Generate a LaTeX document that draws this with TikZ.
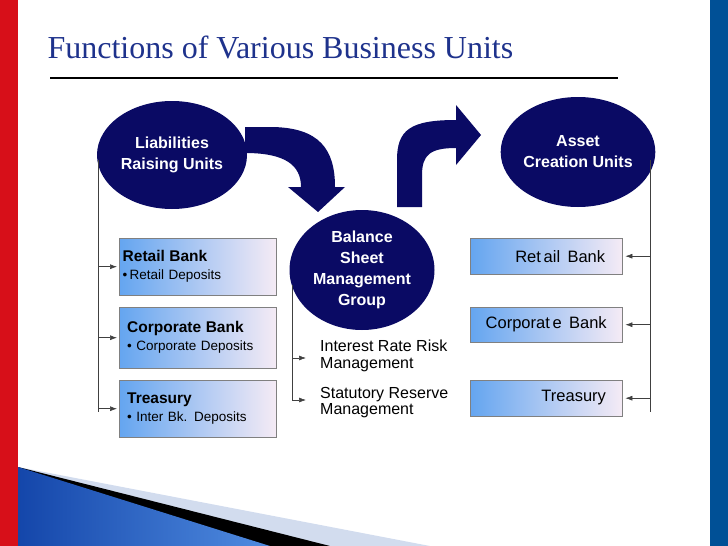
\documentclass[tikz,border=0pt]{standalone}
\usepackage{fontspec}
\setmainfont{Liberation Serif}
\setsansfont{Liberation Sans}
\usetikzlibrary{shapes.geometric, arrows.meta, positioning}
\definecolor{navyunit}{RGB}{10, 10, 100}
\definecolor{titleblue}{RGB}{30, 50, 140}
\definecolor{boxblue}{RGB}{100, 165, 240}
\definecolor{boxpink}{RGB}{245, 235, 245}
\definecolor{sidered}{RGB}{215, 15, 25}
\definecolor{sideblue}{RGB}{0, 80, 150}
\definecolor{swooshdark}{RGB}{20, 70, 170}
\definecolor{swooshlight}{RGB}{80, 140, 225}
\definecolor{swooshgray}{RGB}{210, 220, 238}

\begin{document}
\begin{tikzpicture}[x=1pt, y=-1pt,
    unit/.style={ellipse, fill=navyunit, text=white, font=\sffamily\bfseries\fontsize{16}{21}\selectfont,
                 align=center, inner sep=0pt},
    leftbox/.style={draw=gray, left color=boxblue, right color=boxpink, minimum width=157pt,
                    text width=150pt, inner xsep=3pt, anchor=north west, align=left,
                    font=\sffamily\fontsize{13.5}{18}\selectfont},
    rightbox/.style={draw=gray, left color=boxblue, right color=boxpink, minimum width=152pt,
                     anchor=north west, font=\sffamily\fontsize{16.5}{18}\selectfont},
    mgmt/.style={anchor=north west, align=left, inner sep=0pt, font=\sffamily\fontsize{16}{16.5}\selectfont},
    link/.style={-{Latex[length=7pt, width=5pt]}, line width=0.6pt, color=black!75},
    stem/.style={line width=0.6pt, color=black!75},
]
    \useasboundingbox (0,0) rectangle (728,546);
    % Frame
    \fill[sidered] (0,0) rectangle (18,546);
    \fill[sideblue] (710,0) rectangle (728,546);
    \fill[swooshgray] (18,467) -- (430,546) -- (18,546) -- cycle;
    \fill[black] (18,467) -- (330,546) -- (18,546) -- cycle;
    \shade[left color=swooshdark, right color=swooshlight] (18,467) -- (270,546) -- (18,546) -- cycle;
    \node[anchor=west, text=titleblue, font=\fontsize{32}{36}\selectfont] (title) at (44,47) {Functions of Various Business Units};
    \draw[line width=2pt] (50,78) -- (618,78);

    % Units
    \node[unit, minimum width=150pt, minimum height=108pt] (liab) at (172,155) {Liabilities\\Raising Units};
    \node[unit, minimum width=144pt, minimum height=110pt] (asset) at (578,152) {Asset\\Creation Units};
    \node[unit, minimum width=145pt, minimum height=120pt] (bsm) at (362,270) {Balance\\Sheet\\Management\\Group};

    % Curved arrows
    \fill[navyunit] (245,127) -- (270,127) .. controls (320,127) and (335,150) .. (335,187)
        -- (345,187) -- (318,212) -- (288,187) -- (301,187) .. controls (301,165) and (285,153) .. (245,153) -- cycle;
    \fill[navyunit] (397,207) -- (397,160) .. controls (397,130) and (410,120) .. (456,120)
        -- (456,105) -- (481,135) -- (456,165) -- (456,148) .. controls (430,148) and (422,155) .. (422,175)
        -- (422,207) -- cycle;

    % Liability boxes
    \node[leftbox, minimum height=57pt] (lretail) at (119,238) {\textbf{\fontsize{15.5}{18}\selectfont Retail Bank}\\\textbullet\,Retail Deposits};
    \node[leftbox, minimum height=61pt] (lcorp) at (119,307) {\textbf{\fontsize{15.5}{18}\selectfont\ Corporate Bank}\\\ \textbullet\ Corporate Deposits};
    \node[leftbox, minimum height=57pt] (ltreas) at (119,380) {\textbf{\fontsize{15.5}{18}\selectfont\ Treasury}\\\ \textbullet\ Inter Bk. Deposits};

    % Asset boxes
    \node[rightbox, minimum height=36pt] (rretail) at (470,238) {\hspace{28pt}Ret\,ail \,Bank};
    \node[rightbox, minimum height=35pt] (rcorp) at (470,307) {Corporat\,e \,Bank};
    \node[rightbox, minimum height=36pt] (rtreas) at (470,380) {\hspace{55pt}\raisebox{5pt}{Treasury}};

    % Management texts
    \node[mgmt] (irr) at (320,340) {Interest Rate Risk\\Management};
    \node[mgmt] (srm) at (320,387) {Statutory Reserve\\Management};

    % Connectors
    \coordinate (lspine) at (98,160);
    \coordinate (rspine) at (650,160);
    \coordinate (mspine) at (292,285);
    \draw[stem] (lspine) -- (98,412);
    \draw[stem] (rspine) -- (650,412);
    \draw[stem] (mspine) -- (292,400);
    \foreach \b in {lretail, lcorp, ltreas}
        \draw[link] (lspine |- \b.west) -- ([xshift=-2pt]\b.west);
    \foreach \b in {rretail, rcorp, rtreas}
        \draw[link] (rspine |- \b.east) -- ([xshift=3pt]\b.east);
    \draw[link] (292,358) -- (306,358);
    \draw[link] (292,400) -- (306,400);
\end{tikzpicture}
\end{document}
